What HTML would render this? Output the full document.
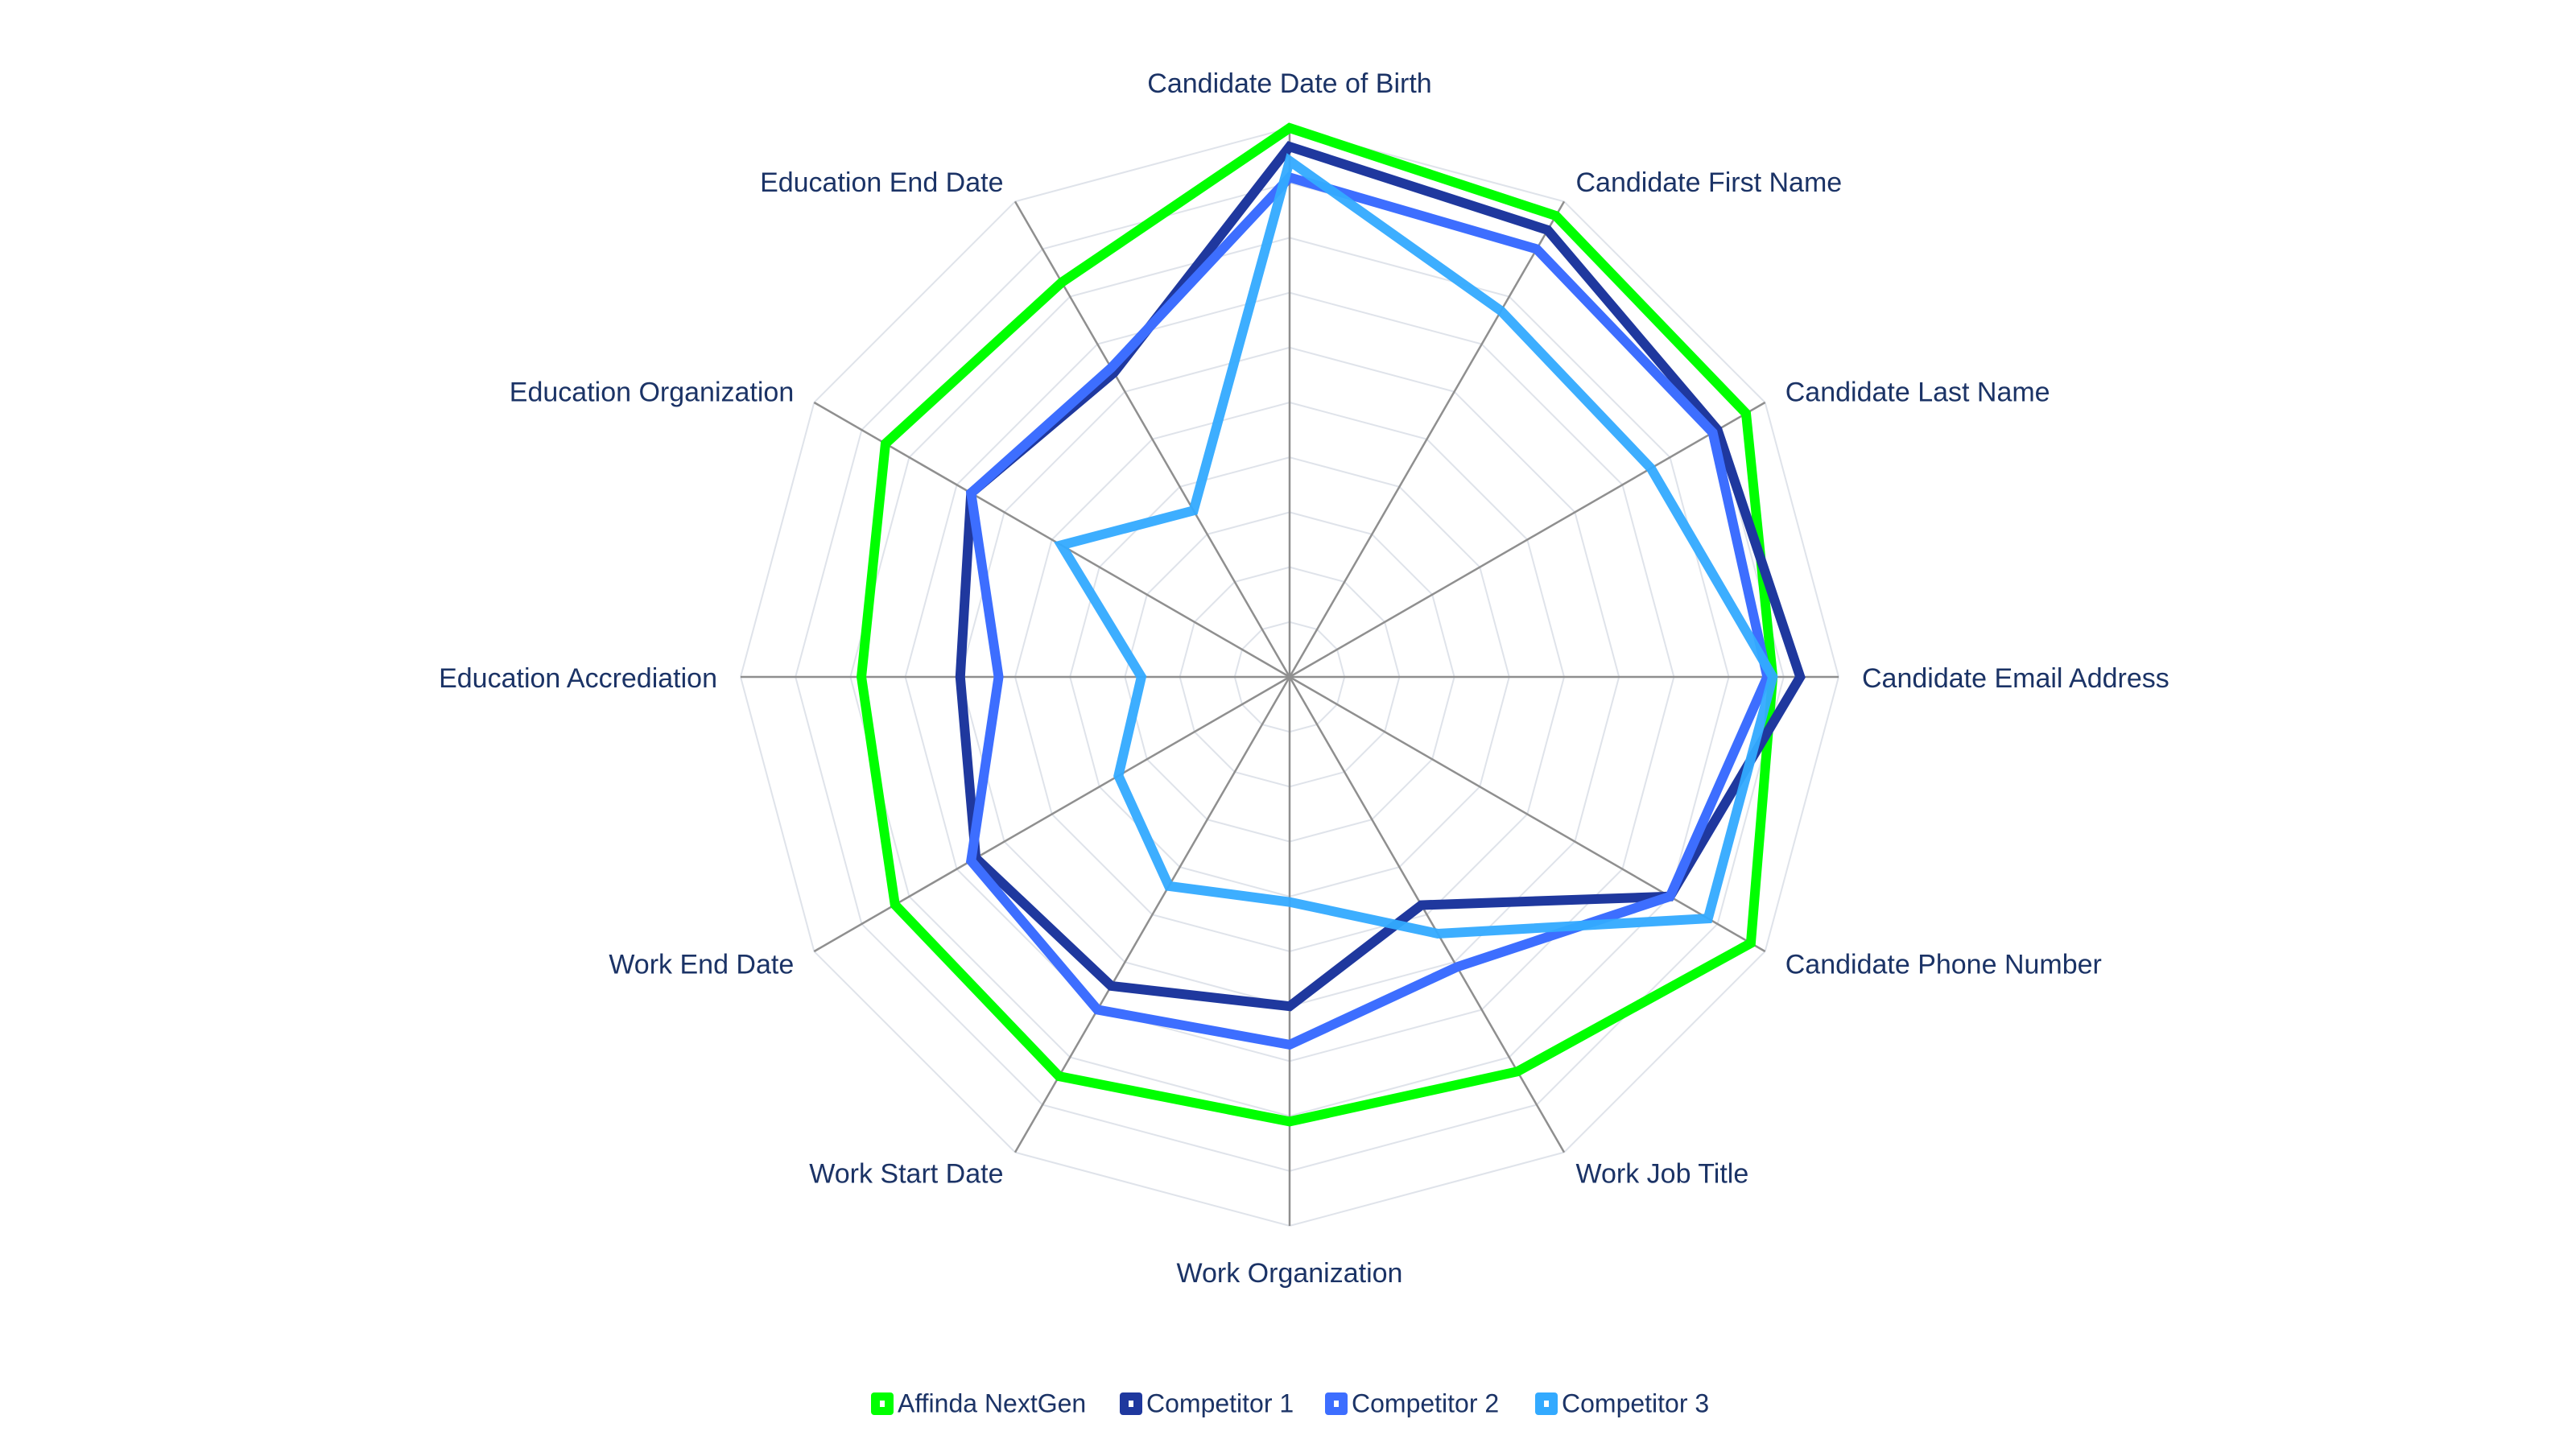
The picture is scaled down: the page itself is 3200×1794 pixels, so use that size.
<!DOCTYPE html>
<html><head><meta charset="utf-8"><style>
html,body{margin:0;padding:0;background:#fff;}
svg{display:block;font-family:"Liberation Sans",sans-serif;}
</style></head><body>
<svg id="chart" width="3200" height="1794" viewBox="0 0 3200 1794" xmlns="http://www.w3.org/2000/svg">
<g id="grid"></g>
<g id="series"></g>
<g id="labels"></g>
<g id="legend"></g>
</svg>
<script>
const categories = ["Candidate Date of Birth","Candidate First Name","Candidate Last Name","Candidate Email Address","Candidate Phone Number","Work Job Title","Work Organization","Work Start Date","Work End Date","Education Accrediation","Education Organization","Education End Date"];
const seriesNames = ["Affinda NextGen","Competitor 1","Competitor 2","Competitor 3"];
const affinda = [1.0,0.97,0.96,0.88,0.97,0.83,0.81,0.84,0.83,0.78,0.85,0.83];
const competitor1 = [0.966,0.94,0.90,0.93,0.80,0.48,0.60,0.65,0.66,0.60,0.67,0.64];
const competitor2 = [0.91,0.90,0.89,0.87,0.80,0.61,0.67,0.70,0.67,0.53,0.67,0.65];
const competitor3 = [0.94,0.77,0.76,0.88,0.88,0.54,0.41,0.44,0.36,0.27,0.48,0.35];
const ringTicks = [0.1,0.2,0.3,0.4,0.5,0.6,0.7,0.8,0.9,1.0];

const NS="http://www.w3.org/2000/svg";
const CX=1602, CY=841, R=682;
const colors=["#00ff00","#1f389e","#3d6eff","#33aaff"];
const allSeries=[affinda,competitor1,competitor2,competitor3];
function ang(i){return (-90+360*i/categories.length)*Math.PI/180;}
function pt(i,v){return [CX+R*v*Math.cos(ang(i)), CY+R*v*Math.sin(ang(i))];}
function mk(tag,attrs,parent){const e=document.createElementNS(NS,tag);for(const k in attrs)e.setAttribute(k,attrs[k]);parent.appendChild(e);return e;}

const grid=document.getElementById('grid');
ringTicks.forEach((t)=>{
  const pts=categories.map((c,i)=>pt(i,t).join(',')).join(' ');
  const ring=mk('polygon',{points:pts,fill:'none',stroke:'#dfe3ea','stroke-width':2},grid);
  
  
});
categories.forEach((c,i)=>{
  const p=pt(i,1);
  const sp=mk('line',{x1:CX,y1:CY,x2:p[0],y2:p[1],stroke:'#8f8f8f','stroke-width':2.5},grid);
  
  
});

const sg=document.getElementById('series');
allSeries.forEach((vals,s)=>{
  const pts=vals.map((v,i)=>pt(i,v).join(',')).join(' ');
  const pl=mk('polygon',{points:pts,fill:'none',stroke:colors[s],'stroke-width':12,'stroke-linejoin':'miter','stroke-opacity':s==3?0.95:1},sg);
  
  
});

const lg=document.getElementById('labels');
categories.forEach((c,i)=>{
  const a=ang(i), cs=Math.cos(a), sn=Math.sin(a);
  const off=Math.abs(cs)<0.1?57:29;
  const x=CX+(R+off)*cs, y=CY+(R+off)*sn+4;
  const anchor=cs>0.1?'start':(cs<-0.1?'end':'middle');
  const t=mk('text',{x:x,y:y,'text-anchor':anchor,'dominant-baseline':'middle','font-size':34,fill:'#1b3366'},lg);
  t.textContent=c;
  
  
});

const leg=document.getElementById('legend');
const legX=[1082,1391,1646,1907];
seriesNames.forEach((n,s)=>{
  const g=mk('g',{},leg);
  
  
  mk('rect',{x:legX[s],y:1730,width:28,height:28,rx:4,fill:colors[s]},g);
  mk('rect',{x:legX[s]+11,y:1740,width:6,height:8,fill:'#fff'},g);
  const t=mk('text',{x:legX[s]+33,y:1746,'dominant-baseline':'middle','font-size':32,fill:'#1b3366'},g);
  t.textContent=n;
});
</script>
</body></html>
